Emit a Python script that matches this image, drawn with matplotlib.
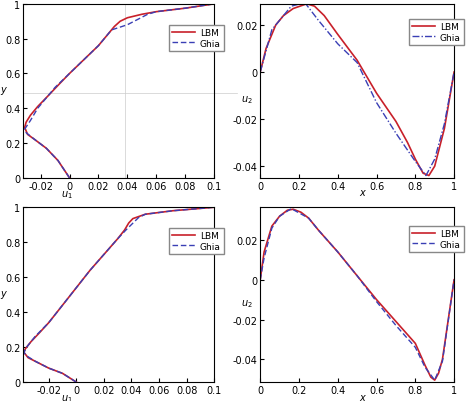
import matplotlib
matplotlib.use("Agg")
import matplotlib.pyplot as plt

# top-left: u1 along vertical centreline
tl_lbm_u = [0, -0.008, -0.016, -0.024, -0.029, -0.031, -0.030, -0.027, -0.022, -0.015, -0.007, 0.0, 0.010, 0.020, 0.027, 0.031, 0.035, 0.040, 0.050, 0.060, 0.080, 0.100]
tl_lbm_y = [0, 0.10, 0.17, 0.22, 0.25, 0.29, 0.32, 0.36, 0.41, 0.47, 0.54, 0.60, 0.68, 0.76, 0.83, 0.87, 0.90, 0.92, 0.94, 0.955, 0.975, 1.0]
tl_ghia_u = [0, -0.008, -0.016, -0.024, -0.030, -0.031, -0.027, -0.022, -0.018, -0.010, 0.0, 0.010, 0.020, 0.029, 0.040, 0.054, 0.060, 0.080, 0.100]
tl_ghia_y = [0, 0.10, 0.17, 0.22, 0.26, 0.28, 0.33, 0.40, 0.44, 0.52, 0.60, 0.68, 0.76, 0.85, 0.88, 0.94, 0.955, 0.975, 1.0]

# top-right: u2 along horizontal centreline
tr_lbm_x = [0, 0.03, 0.08, 0.12, 0.17, 0.24, 0.28, 0.33, 0.40, 0.50, 0.60, 0.70, 0.76, 0.80, 0.84, 0.87, 0.90, 0.95, 1.0]
tr_lbm_v = [0, 0.010, 0.020, 0.024, 0.027, 0.029, 0.028, 0.024, 0.016, 0.005, -0.009, -0.021, -0.030, -0.037, -0.043, -0.044, -0.040, -0.024, 0.0]
tr_ghia_x = [0, 0.06, 0.16, 0.23, 0.30, 0.40, 0.50, 0.60, 0.70, 0.80, 0.855, 0.90, 0.95, 1.0]
tr_ghia_v = [0, 0.018, 0.028, 0.0295, 0.022, 0.012, 0.004, -0.013, -0.026, -0.038, -0.044, -0.037, -0.022, 0.0]

# bottom-left
bl_lbm_u = [0, -0.010, -0.020, -0.030, -0.035, -0.038, -0.037, -0.033, -0.027, -0.020, -0.010, 0.0, 0.010, 0.020, 0.030, 0.035, 0.038, 0.041, 0.050, 0.070, 0.100]
bl_lbm_y = [0, 0.05, 0.08, 0.12, 0.14, 0.17, 0.19, 0.23, 0.28, 0.34, 0.44, 0.54, 0.64, 0.73, 0.82, 0.87, 0.91, 0.935, 0.96, 0.98, 1.0]
bl_ghia_u = [0, -0.010, -0.020, -0.030, -0.036, -0.038, -0.036, -0.030, -0.020, -0.010, 0.0, 0.010, 0.020, 0.030, 0.036, 0.045, 0.050, 0.070, 0.100]
bl_ghia_y = [0, 0.05, 0.08, 0.12, 0.15, 0.17, 0.20, 0.26, 0.34, 0.44, 0.54, 0.64, 0.73, 0.82, 0.87, 0.94, 0.96, 0.98, 1.0]

# bottom-right
br_lbm_x = [0, 0.02, 0.06, 0.10, 0.14, 0.17, 0.21, 0.25, 0.30, 0.40, 0.50, 0.60, 0.70, 0.80, 0.85, 0.88, 0.90, 0.92, 0.94, 1.0]
br_lbm_v = [0, 0.014, 0.027, 0.032, 0.035, 0.0355, 0.034, 0.031, 0.025, 0.014, 0.002, -0.010, -0.021, -0.032, -0.043, -0.049, -0.0505, -0.047, -0.040, 0.0]
br_ghia_x = [0, 0.02, 0.06, 0.10, 0.16, 0.25, 0.30, 0.40, 0.50, 0.60, 0.70, 0.80, 0.85, 0.90, 0.94, 1.0]
br_ghia_v = [0, 0.011, 0.026, 0.032, 0.0358, 0.031, 0.025, 0.014, 0.002, -0.011, -0.023, -0.034, -0.044, -0.0505, -0.041, 0.0]

RED = "#c8202a"
BLUE = "#3a3fb5"

fig = plt.figure(figsize=(4.74, 4.02), dpi=100)
plt.rcParams["font.size"] = 7

def style(ax):
    ax.tick_params(direction="in", length=3, labelsize=7, pad=2)
    for s in ax.spines.values():
        s.set_linewidth(0.8)

def legend(ax, anchor, ghia_style):
    ax.plot([], [], color=RED, lw=1.2, label="LBM")
    ax.plot([], [], color=BLUE, lw=1.0, ls=ghia_style, label="Ghia")
    ax.legend(loc="upper left", bbox_to_anchor=anchor, bbox_transform=fig.transFigure,
              fontsize=6.5, fancybox=False, edgecolor="#888888", framealpha=1,
              handlelength=2.6, handletextpad=0.5, borderpad=0.35, labelspacing=0.15,
              borderaxespad=0)

def u1_panel(rect, lu, ly, gu, gy, xmin, anchor):
    ax = fig.add_axes(rect)
    ax.plot(lu, ly, color=RED, lw=1.2)
    ax.plot(gu, gy, color=BLUE, lw=1.0, ls=(0, (4, 2)))
    ax.set_xlim(xmin, 0.1)
    ax.set_ylim(0, 1)
    ax.set_xticks([-0.02, 0, 0.02, 0.04, 0.06, 0.08, 0.1])
    ax.set_xticklabels(["-0.02", "0", "0.02", "0.04", "0.06", "0.08", "0.1"])
    ax.set_yticks([0, 0.2, 0.4, 0.6, 0.8, 1])
    ax.set_yticklabels(["0", "0.2", "0.4", "0.6", "0.8", "1"])
    ax.set_xlabel(r"$u_1$")
    ax.xaxis.set_label_coords(0.23, -0.06)
    ax.set_ylabel(r"$y$", rotation=0)
    ax.yaxis.set_label_coords(-0.1, 0.47)
    style(ax)
    legend(ax, anchor, (0, (4, 2)))
    return ax

def u2_panel(rect, lx, lv, gx, gv, ylim, ghia_ls, anchor):
    ax = fig.add_axes(rect)
    ax.plot(lx, lv, color=RED, lw=1.2)
    ax.plot(gx, gv, color=BLUE, lw=1.0, ls=ghia_ls)
    ax.set_xlim(0, 1)
    ax.set_ylim(*ylim)
    ax.set_xticks([0, 0.2, 0.4, 0.6, 0.8, 1])
    ax.set_xticklabels(["0", "0.2", "0.4", "0.6", "0.8", "1"])
    ax.set_yticks([-0.04, -0.02, 0, 0.02])
    ax.set_yticklabels(["-0.04", "-0.02", "0", "0.02"])
    ax.set_xlabel(r"$x$")
    ax.xaxis.set_label_coords(0.53, -0.055)
    ax.set_ylabel(r"$u_2$", rotation=0)
    ax.yaxis.set_label_coords(-0.07, 0.42)
    style(ax)
    legend(ax, anchor, ghia_ls)
    return ax

ax1 = u1_panel([0.049, 0.555, 0.403, 0.433], tl_lbm_u, tl_lbm_y, tl_ghia_u, tl_ghia_y, -0.032, (0.356, 0.935))
ax1.axvline(0.038, color="#cccccc", lw=0.5, zorder=0)
ax1.axhline(0.49, xmax=1.12, color="#cccccc", lw=0.5, zorder=0, clip_on=False)

u2_panel([0.549, 0.555, 0.409, 0.433], tr_lbm_x, tr_lbm_v, tr_ghia_x, tr_ghia_v, (-0.045, 0.029), (0, (5, 1.5, 1, 1.5)), (0.862, 0.95))
u1_panel([0.049, 0.047, 0.403, 0.435], bl_lbm_u, bl_lbm_y, bl_ghia_u, bl_ghia_y, -0.0385, (0.356, 0.43))
u2_panel([0.549, 0.047, 0.409, 0.435], br_lbm_x, br_lbm_v, br_ghia_x, br_ghia_v, (-0.0515, 0.0365), (0, (4, 2)), (0.862, 0.435))

fig.savefig("out.png", dpi=100)
